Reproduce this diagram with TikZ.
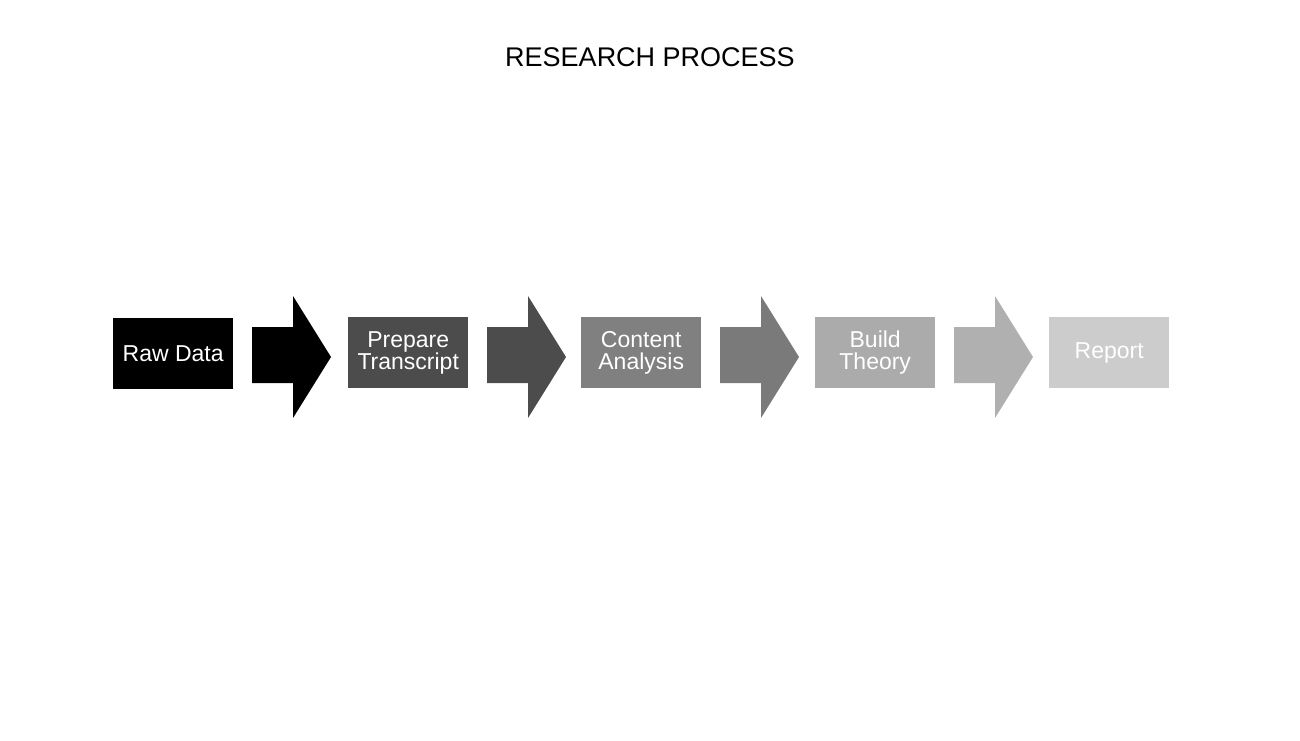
\documentclass[tikz,border=0pt]{standalone}
\usepackage{fontspec}
\setmainfont{Liberation Sans}
\begin{document}
\begin{tikzpicture}[x=1pt,y=-1pt,
  stepbox/.style={minimum width=120pt,minimum height=71pt,inner sep=0pt,text=white,font=\fontsize{23}{22}\selectfont,align=center,anchor=north west},
  bigarrow/.style={draw=none}]
\useasboundingbox (0,0) rectangle (1300,740);
\node[font=\fontsize{27}{30}\selectfont] (title) at (650,57) {RESEARCH PROCESS};
\node[stepbox,fill=black] (b1) at (113,318) {Raw Data};
\node[stepbox,fill=black!70] (b2) at (348,317) {Prepare\\Transcript};
\node[stepbox,fill=black!50] (b3) at (581,317) {Content\\Analysis};
\node[stepbox,fill=black!33] (b4) at (815,317) {Build\\Theory};
\node[stepbox,fill=black!20] (b5) at (1049,317) {Report};
\foreach \x/\c in {252/black, 487/black!70, 720/black!52, 954/black!31}{
  \fill[\c] (\x,327) -- (\x+41,327) -- (\x+41,296) -- (\x+79,357) -- (\x+41,418) -- (\x+41,383) -- (\x,383) -- cycle;
}
\end{tikzpicture}
\end{document}
